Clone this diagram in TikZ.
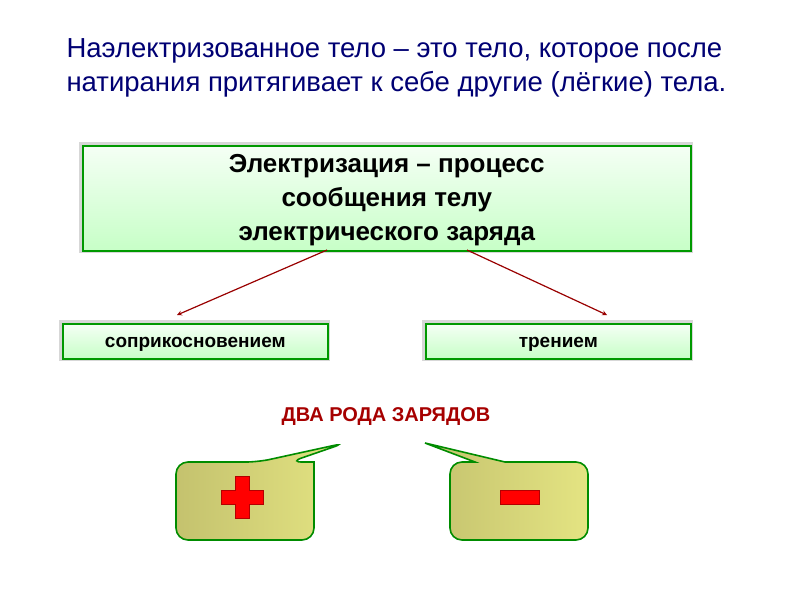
\documentclass[tikz,border=0pt]{standalone}
\usepackage{fontspec}
\setmainfont{Liberation Sans}
\definecolor{khakiA}{RGB}{196,194,110}
\definecolor{khakiB}{RGB}{228,228,130}
\begin{document}
\begin{tikzpicture}[x=1pt,y=-1pt,
  gbox/.style={draw=green!60!black,line width=1.6pt,top color=green!4,bottom color=green!22,inner sep=0pt},
  glow/.style={draw=black!45,line width=6pt,opacity=0.35},
  bubble/.style={draw=green!55!black,line width=1.6pt,left color=khakiA,right color=khakiB},
  arr/.style={draw=red!60!black,line width=1.2pt,->,>=stealth}]
\useasboundingbox (0,0) rectangle (800,600);
\node[align=left,anchor=west,font=\fontsize{27.5}{34}\selectfont,text=blue!45!black] (title) at (63,68)
  {Наэлектризованное тело – это тело, которое после\\натирания притягивает к себе другие (лёгкие) тела.};
\draw[glow] (82,145) rectangle (690,250);
\node[gbox,minimum width=608,minimum height=105,anchor=north west] (main) at (82,145) {};
\node[align=center,font=\bfseries\fontsize{26}{34}\selectfont] at ([yshift=-2]main.center)
  {Электризация – процесс\\сообщения телу\\электрического заряда};
\draw[glow] (62,323) rectangle (327,358);
\draw[glow] (425,323) rectangle (690,358);
\node[gbox,minimum width=265,minimum height=35,anchor=north west] (a) at (62,323) {};
\node[gbox,minimum width=265,minimum height=35,anchor=north west] (b) at (425,323) {};
\node[font=\bfseries\fontsize{19}{22}\selectfont] at ([yshift=-3]a.center) {соприкосновением};
\node[font=\bfseries\fontsize{19}{22}\selectfont] at ([yshift=-3]b.center) {трением};
\coordinate (s1) at (327,250); \coordinate (e1) at (177,315);
\coordinate (s2) at (467,250); \coordinate (e2) at (607,315);
\draw[arr] (s1) -- (e1);
\draw[arr] (s2) -- (e2);
\node[font=\bfseries\fontsize{20}{22}\selectfont,text=red!65!black] (two) at (386,417) {ДВА РОДА ЗАРЯДОВ};
\draw[bubble,rounded corners=12pt] (176,462) -- (258,462) -- (345,443) -- (290,462) [sharp corners] -- (314,462) [rounded corners=12pt] -- (314,540) -- (176,540) -- cycle;
\draw[bubble,rounded corners=12pt] (450,462) [sharp corners]-- (475,462) -- (425,443) -- (505,462) [rounded corners=12pt] -- (588,462) -- (588,540) -- (450,540) -- cycle;
\fill[red] (235,476) rectangle (249,518);
\fill[red] (221,490) rectangle (263,504);
\draw[red!70!black,line width=0.5pt] (235,476) -- (249,476) -- (249,490) -- (263,490) -- (263,504) -- (249,504) -- (249,518) -- (235,518) -- (235,504) -- (221,504) -- (221,490) -- (235,490) -- cycle;
\filldraw[fill=red,draw=red!70!black,line width=0.5pt] (500,490) rectangle (539,504);
\end{tikzpicture}
\end{document}
